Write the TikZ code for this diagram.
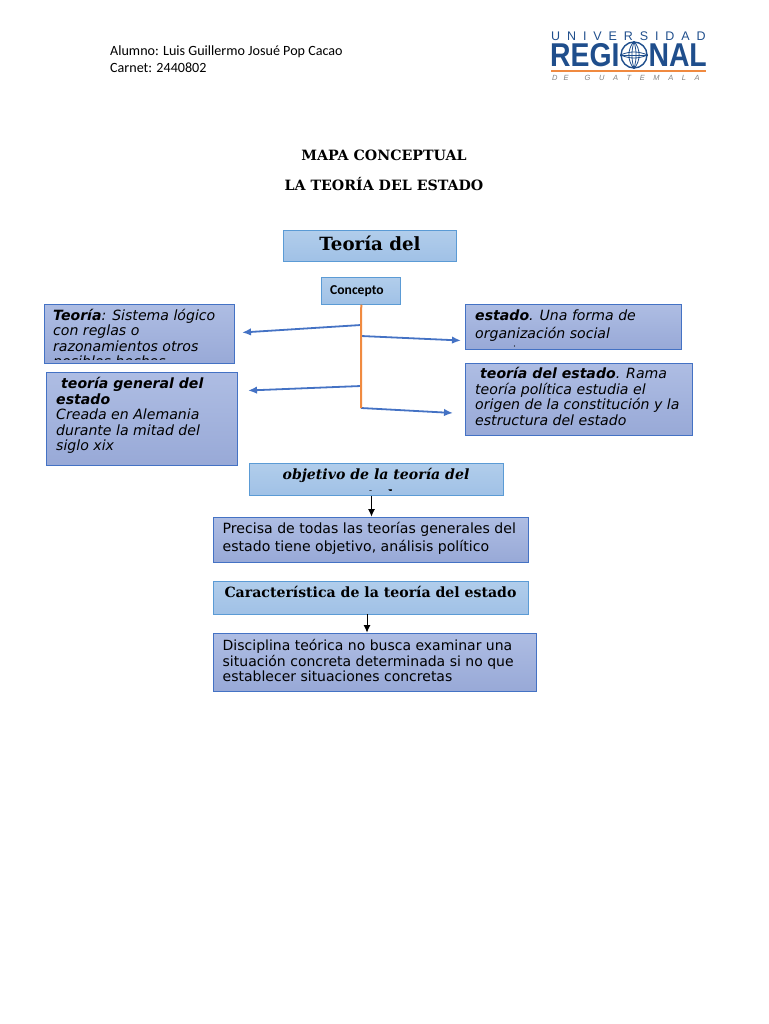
\documentclass[tikz,border=0pt]{standalone}
\usepackage{fontspec}
\setmainfont{DejaVu Sans}
\newfontfamily\serfont{DejaVu Serif}
\newfontfamily\calfont{Carlito}
\newfontfamily\logofont{Liberation Sans}
\usetikzlibrary{arrows.meta}
\definecolor{lightTop}{HTML}{B1CDEB}
\definecolor{lightBot}{HTML}{A0C1E6}
\definecolor{lightEdge}{HTML}{5B9BD5}
\definecolor{purpTop}{HTML}{AEBDE3}
\definecolor{purpBot}{HTML}{98A9D7}
\definecolor{purpEdge}{HTML}{4472C4}
\definecolor{spine}{HTML}{F08A40}
\definecolor{logoblue}{HTML}{1F4E8C}
\tikzset{
  lightbox/.style={draw=lightEdge,line width=0.9pt,top color=lightTop,bottom color=lightBot,inner sep=0pt},
  purpbox/.style={draw=purpEdge,line width=0.9pt,top color=purpTop,bottom color=purpBot,inner sep=0pt},
  bodytext/.style={anchor=north west,inner sep=0pt,align=left,text=black,font=\fontsize{14.1}{15.5}\selectfont},
  centertext/.style={anchor=north,inner sep=0pt,align=center,text=black},
  branch/.style={draw=purpEdge,line width=1.8pt,-{Latex[length=9pt,width=7.5pt]}},
  flow/.style={draw=black,line width=0.9pt,-{Latex[length=7.5pt,width=7pt]}},
  logoline/.style={draw=logoblue,line width=0.8pt}
}
\newcommand{\serb}{\serfont\bfseries}
\begin{document}
\begin{tikzpicture}[x=1pt,y=-1pt]
\useasboundingbox (0,0) rectangle (768,1024);
% header
\node[anchor=base west,inner sep=0pt,font=\calfont\fontsize{14.1}{17}\selectfont] (alumno) at (110,56) {Alumno: Luis Guillermo Josué Pop Cacao};
\node[anchor=base west,inner sep=0pt,font=\calfont\fontsize{14.1}{17}\selectfont] (carnet) at (110,73) {Carnet: 2440802};
% logo
\node[anchor=base west,inner sep=0pt,text=logoblue,font=\logofont\fontsize{12.5}{14}\selectfont] (univ) at (551,41) {U\hspace{6.9pt}N\hspace{6.9pt}I\hspace{6.9pt}V\hspace{6.9pt}E\hspace{6.9pt}R\hspace{6.9pt}S\hspace{6.9pt}I\hspace{6.9pt}D\hspace{6.9pt}A\hspace{6.9pt}D};
\node[anchor=base west,inner sep=0pt,xscale=0.86,text=logoblue,font=\logofont\bfseries\fontsize{33}{35}\selectfont] (reg) at (550,67) {REGI};
\node[anchor=base east,inner sep=0pt,xscale=0.86,text=logoblue,font=\logofont\bfseries\fontsize{33}{35}\selectfont] (nal) at (707,67) {NAL};
\node[circle,draw=logoblue,line width=1.4pt,minimum size=26pt,inner sep=0pt] (globe) at (634,55) {};
\draw[logoline] (globe.north) to[bend left=40] (globe.south);
\draw[logoline] (globe.north) to[bend right=40] (globe.south);
\draw[logoline] (globe.north) to[bend left=15] (globe.south);
\draw[logoline] (globe.north) to[bend right=15] (globe.south);
\draw[logoline] (globe.west) to[bend left=22] (globe.east);
\draw[logoline] (globe.west) to[bend right=22] (globe.east);
\draw[logoline] (globe.west) -- (globe.east);
\coordinate (ruleL) at (551,71);
\coordinate (ruleR) at (706,71);
\draw[spine,line width=1.4pt] (ruleL) -- (ruleR);
\node[anchor=base west,inner sep=0pt,text=gray,font=\logofont\itshape\fontsize{7.5}{9}\selectfont] (deg) at (552,81) {D\hspace{6pt}E\hspace{16pt}G\hspace{8.6pt}U\hspace{8.6pt}A\hspace{8.6pt}T\hspace{8.6pt}E\hspace{8.6pt}M\hspace{8.6pt}A\hspace{8.6pt}L\hspace{8.6pt}A};
% titles
\node[anchor=base,inner sep=0pt,font=\serb\fontsize{14.2}{15}\selectfont] (t1) at (384,160.5) {MAPA CONCEPTUAL};
\node[anchor=base,inner sep=0pt,font=\serb\fontsize{14.2}{15}\selectfont] (t2) at (384,191) {LA TEORÍA DEL ESTADO};
% boxes
\node[lightbox,minimum width=173.5pt,minimum height=30.5pt] (titulo) at (370,246) {};
\node[lightbox,minimum width=79pt,minimum height=26.5pt] (concepto) at (361.25,291) {};
\node[purpbox,minimum width=190.5pt,minimum height=59.5pt] (teoria) at (139.5,334) {};
\node[purpbox,minimum width=191pt,minimum height=93pt] (general) at (142.25,419.25) {};
\node[purpbox,minimum width=216pt,minimum height=45.5pt] (estado) at (573.75,326.75) {};
\node[purpbox,minimum width=227pt,minimum height=72.5pt] (teoest) at (579.25,399.25) {};
\node[lightbox,minimum width=254pt,minimum height=32pt] (objetivo) at (376.75,479.5) {};
\node[purpbox,minimum width=314.5pt,minimum height=45pt] (precisa) at (371,539.5) {};
\node[lightbox,minimum width=314.5pt,minimum height=33pt] (caract) at (371,597.5) {};
\node[purpbox,minimum width=322.5pt,minimum height=58pt] (disciplina) at (375,662) {};
% box texts
\node[anchor=base,inner sep=0pt,font=\serb\fontsize{18.2}{24}\selectfont] (tituloT) at (370,251) {Teoría del};
\node[anchor=base west,inner sep=0pt,font=\calfont\bfseries\fontsize{13.6}{14}\selectfont] (conceptoT) at (330,294) {Concepto};
\begin{scope}
\clip (44,304) rectangle (235,359);
\node[bodytext] (teoriaT) at (53,309) {\textbf{\textit{Teoría}}\textit{: Sistema lógico}\\\textit{con reglas o}\\\textit{razonamientos otros}\\\textit{posibles hechos}};
\end{scope}
\node[bodytext] (generalT) at (56,377.5) {\hspace{5pt}\textbf{\textit{teoría general del}}\\\textbf{\textit{estado}}\\\textit{Creada en Alemania}\\\textit{durante la mitad del}\\\textit{siglo xix}};
\node[bodytext,font=\fontsize{14.1}{18}\selectfont] (estadoT) at (475,309.5) {\textbf{\textit{estado}}\textit{. Una forma de}\\\textit{organización social}};
\fill (514.5,346) circle[radius=0.6pt];
\node[bodytext] (teoestT) at (475,367.5) {\hspace{5pt}\textbf{\textit{teoría del estado}}\textit{. Rama}\\\textit{teoría política estudia el}\\\textit{origen de la constitución y la}\\\textit{estructura del estado}};
\begin{scope}
\clip (200,460) rectangle (560,490.8);
\node[centertext,font=\serb\itshape\fontsize{14.1}{21}\selectfont] (objetivoT) at (376,468.5) {objetivo de la teoría del\\estado};
\end{scope}
\node[bodytext,font=\fontsize{14.1}{18}\selectfont] (precisaT) at (222.5,522) {Precisa de todas las teorías generales del\\estado tiene objetivo, análisis político};
\node[anchor=base,inner sep=0pt,font=\serb\fontsize{14.1}{15}\selectfont] (caractT) at (370.5,597) {Característica de la teoría del estado};
\node[bodytext,font=\fontsize{14}{15.5}\selectfont] (disciplinaT) at (222.5,639.5) {Disciplina teórica no busca examinar una\\situación concreta determinada si no que\\establecer situaciones concretas};
% connectors
\coordinate (sp1) at (361,325);
\coordinate (sp2) at (361,336);
\coordinate (sp3) at (361,386);
\coordinate (sp4) at (361,408);
\coordinate (end1) at (242,332.5);
\coordinate (end2) at (461,340.5);
\coordinate (end3) at (248,390.5);
\coordinate (end4) at (453,413);
\draw[branch] (sp1) -- (end1);
\draw[branch] (sp2) -- (end2);
\draw[branch] (sp3) -- (end3);
\draw[branch] (sp4) -- (end4);
\draw[spine,line width=2pt] (concepto.south) -- (sp4);
\draw[flow] (objetivo.south -| 371.5,0) -- (precisa.north -| 371.5,0);
\draw[flow] (caract.south -| 367,0) -- (disciplina.north -| 367,0);
\end{tikzpicture}
\end{document}
